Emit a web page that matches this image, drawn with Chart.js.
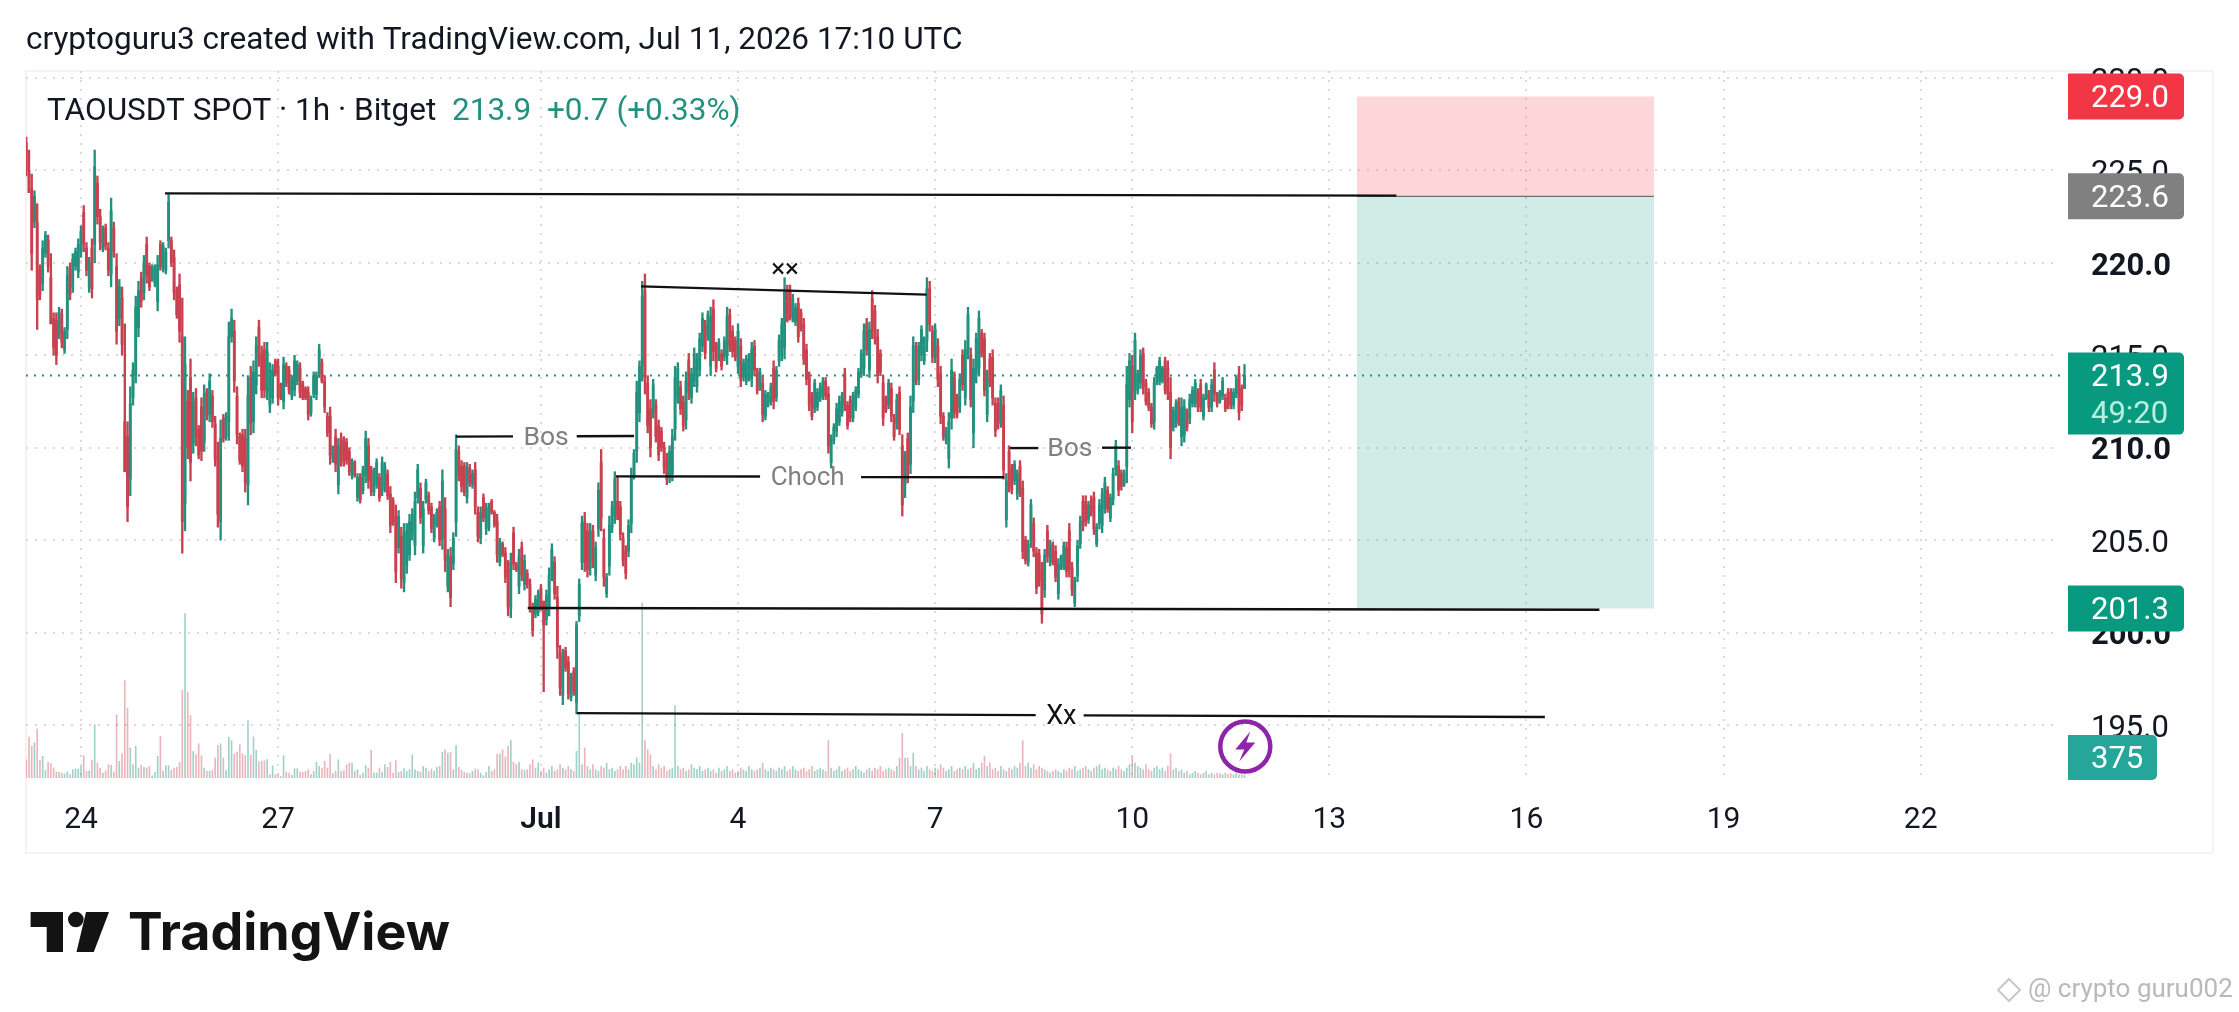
<!DOCTYPE html>
<html><head><meta charset="utf-8"><title>TAOUSDT</title>
<script src="https://cdn.jsdelivr.net/npm/chart.js@4"></script>
<style>html,body{margin:0;padding:0;background:#fff}canvas{display:block}</style></head>
<body><canvas id="c" width="2239" height="1012"></canvas>
<script>
const highs=[
226.8,226.1,224.8,223.9,223.2,219.9,221.2,221.7,221.5,220.5,217.3,217.3,217.6,217.5,216.5,219.8,220.0,220.5,220.8,221.3,222.0,223.1,221.1,220.3,221.3,226.1,224.7,222.9,222.0,222.1,221.1,223.5,222.2,220.5,219.1,218.7,216.7,211.4,213.3,214.6,218.2,219.0,219.5,220.4,221.4,220.0,219.9,219.9,220.4,221.2,221.1,220.8,223.7,221.4,220.7,218.7,219.4,218.1,216.0,213.1,214.8,213.0,213.2,211.2,212.7,213.4,213.2,214.0,213.1,211.7,210.3,211.5,211.8,211.9,216.8,217.5,216.9,213.3,210.8,211.0,211.0,213.9,214.4,214.7,216.0,216.9,215.5,215.7,215.7,214.6,
214.5,214.8,214.8,213.5,214.9,214.6,214.4,213.9,215.0,214.7,214.6,213.6,213.3,213.3,212.8,214.1,214.1,215.6,214.8,213.9,211.9,212.2,210.1,211.0,210.5,210.8,210.6,210.5,210.0,209.4,209.3,208.6,208.6,209.0,210.9,210.5,209.0,208.9,209.4,208.6,209.5,209.2,208.8,207.9,207.3,206.9,206.6,205.7,205.9,205.9,206.4,206.7,207.6,209.1,208.1,207.1,208.3,207.6,207.0,206.4,206.7,207.1,208.8,207.3,204.5,204.6,205.4,210.7,210.1,209.3,209.2,209.2,209.1,208.8,209.2,206.8,206.8,207.5,207.0,207.0,207.2,206.6,206.4,205.1,204.9,204.6,203.9,204.3,205.7,
203.8,204.5,204.9,204.2,203.4,202.9,201.6,202.0,202.3,202.6,201.7,202.3,203.5,204.8,204.1,202.5,199.3,199.1,199.2,198.7,197.8,198.1,200.6,202.9,206.3,206.5,205.9,205.9,205.8,204.9,208.1,209.9,205.6,203.2,206.3,207.1,208.7,208.4,207.1,205.4,204.7,206.1,208.9,209.9,213.6,214.7,219.0,219.4,213.9,212.6,213.7,212.6,211.5,211.1,210.3,209.7,210.1,211.0,214.4,214.6,213.6,212.8,214.1,215.1,214.3,215.4,215.1,216.2,217.3,216.9,217.4,217.6,218.0,215.7,215.9,215.3,216.0,217.6,217.5,216.6,216.0,216.7,215.9,214.8,215.0,215.1,215.7,215.8,214.3,214.3,
213.9,213.1,213.0,213.5,214.7,214.4,216.1,217.0,219.2,218.8,218.8,218.3,217.8,218.1,217.5,217.0,215.6,214.1,213.0,213.7,213.2,213.5,213.8,213.8,213.3,210.7,211.3,212.4,212.8,213.0,214.3,212.5,212.8,213.0,213.3,214.3,215.3,216.7,217.0,216.8,218.5,217.7,216.4,215.3,213.9,212.8,213.7,213.5,211.8,212.9,213.3,210.7,209.8,210.8,212.8,216.0,215.7,215.7,216.6,216.0,219.2,219.0,216.6,216.7,215.9,214.4,211.9,211.1,211.9,214.8,214.1,212.9,214.0,215.3,215.8,217.6,215.4,214.8,216.2,217.4,216.4,216.2,214.2,215.1,215.3,212.7,212.7,213.4,212.8,
208.6,210.1,209.1,209.3,208.8,209.3,208.2,205.2,205.0,207.2,206.2,204.6,204.5,203.8,204.5,205.8,205.0,204.9,204.7,204.0,204.2,204.9,204.9,205.9,203.8,203.0,205.0,206.3,207.4,207.4,207.1,207.4,207.6,205.9,207.2,207.8,208.4,207.9,207.5,208.9,210.4,209.3,208.8,208.8,214.4,215.1,215.0,216.2,214.2,215.3,215.4,213.7,213.2,212.4,213.8,214.4,214.9,214.4,214.9,214.7,213.8,212.2,212.6,212.7,212.7,212.6,212.1,212.9,213.3,213.7,213.2,213.7,212.9,213.5,213.1,213.7,214.6,213.0,213.1,213.8,212.9,213.2,213.2,213.2,213.9,214.4,213.4,214.5];
const lows=[
224.7,223.8,219.6,221.9,216.4,218.0,218.5,220.3,219.5,216.7,215.0,214.5,215.9,215.4,215.1,215.9,218.0,218.4,219.6,219.2,220.3,220.6,219.3,218.4,218.1,220.0,222.1,220.7,220.6,220.7,219.3,218.7,220.3,215.6,216.6,215.0,208.7,206.0,207.4,212.3,213.5,216.0,217.6,218.0,218.9,218.5,219.0,218.7,217.4,219.6,219.5,219.4,220.8,219.8,218.0,217.0,215.7,204.3,205.5,209.4,208.2,209.7,210.1,209.4,209.3,209.8,211.5,211.4,211.1,209.0,205.7,205.0,210.3,210.4,210.4,215.7,213.0,210.2,209.1,208.7,207.6,206.9,210.7,210.8,212.9,214.4,212.7,212.7,212.6,211.9,
212.4,213.9,212.3,212.6,212.1,213.3,212.9,212.6,212.8,213.4,212.7,212.6,212.6,211.5,211.7,212.7,212.6,213.8,213.5,211.9,210.6,209.1,209.2,208.7,207.5,209.0,209.0,209.1,208.5,208.3,208.4,207.1,207.0,207.5,208.1,207.8,207.4,207.4,207.8,207.1,207.4,207.6,207.2,205.4,205.8,202.7,204.3,202.4,202.2,203.2,203.9,205.0,204.2,207.0,205.9,204.3,207.0,206.4,205.4,204.9,205.7,204.7,204.5,203.3,202.2,201.4,203.4,205.2,208.2,207.6,207.4,207.0,207.9,207.8,206.4,204.9,204.8,206.0,205.3,205.5,206.4,205.7,203.8,203.6,204.1,202.7,200.9,200.8,203.4,
203.3,202.1,202.8,202.3,202.4,201.1,199.8,200.8,200.9,201.2,196.8,200.4,200.9,202.8,201.8,198.6,196.6,196.1,197.9,196.4,196.3,196.6,195.6,200.6,203.4,203.3,203.0,203.1,203.5,202.8,205.2,205.5,202.5,201.9,203.1,205.4,205.9,206.3,205.0,203.6,202.9,204.1,205.4,208.3,209.2,211.4,213.6,212.9,210.8,209.5,211.6,210.3,209.3,209.8,208.6,208.0,208.1,208.2,210.4,212.4,211.8,210.9,211.0,212.6,212.4,213.3,213.0,213.9,215.2,214.8,215.8,213.9,214.7,214.1,214.7,214.2,214.7,214.5,215.2,214.9,214.7,214.0,213.3,213.6,213.4,213.6,213.3,213.9,212.9,213.1,
211.4,211.5,212.2,212.3,212.1,212.5,214.4,214.7,214.8,216.8,216.9,216.8,216.6,215.7,216.3,214.5,213.4,212.0,211.5,211.9,212.0,212.5,212.6,212.6,209.7,208.9,210.2,210.6,211.2,211.7,212.0,211.0,211.4,211.4,212.0,212.7,213.8,213.9,215.0,213.8,215.9,215.6,213.5,213.9,211.2,211.9,212.1,211.4,210.4,211.0,210.7,206.3,207.3,208.1,208.6,211.9,213.4,213.4,214.7,214.5,215.2,216.3,214.6,214.6,213.3,211.3,210.4,210.2,208.9,211.0,211.6,211.6,211.9,213.1,212.3,214.8,212.2,210.0,213.5,213.9,214.9,212.8,211.4,213.3,212.3,210.6,211.0,211.1,208.3,
205.7,207.6,207.5,208.0,207.2,207.35,204.0,203.7,203.6,204.6,204.1,202.1,202.5,200.5,201.9,203.8,203.6,203.65,202.75,201.8,203.4,203.4,203.0,203.0,202.0,201.4,202.75,204.55,205.5,205.75,205.9,206.3,205.3,204.65,205.6,205.4,206.45,206.5,206.0,206.9,208.5,207.4,207.7,207.9,208.1,212.2,210.8,212.6,212.9,213.2,212.9,212.3,212.0,211.1,211.0,213.4,213.4,213.5,212.9,212.6,209.4,210.9,211.1,211.2,210.1,210.3,210.9,211.3,212.2,212.2,211.95,211.95,211.5,212.6,211.95,211.95,212.5,212.2,212.4,212.6,211.95,212.1,212.1,212.1,212.7,211.5,212.0,213.2];
const opens=[
226.5,225.0,224.0,222.2,222.2,219.6,218.9,220.5,221.2,219.2,217.0,216.9,216.2,217.2,215.3,216.4,219.7,218.7,219.8,219.5,220.6,222.7,220.8,218.7,220.8,221.0,224.3,222.5,220.8,221.9,220.8,219.4,221.9,219.8,217.0,218.1,211.4,210.6,208.3,212.7,213.9,216.5,219.2,218.4,221.0,219.8,219.1,218.9,217.9,221.0,219.7,219.6,221.2,221.2,220.3,218.5,218.8,216.0,207.0,212.5,213.8,210.2,212.7,211.0,212.2,210.3,213.0,211.8,212.8,211.3,209.6,206.0,211.6,210.6,211.4,216.0,216.3,212.8,210.6,210.7,210.5,208.0,213.8,211.4,213.4,216.5,215.1,215.3,213.0,212.3,
212.7,214.7,214.4,213.4,212.5,214.4,214.2,212.8,213.1,213.6,214.3,213.5,213.2,213.0,211.9,212.9,212.9,214.0,214.6,213.6,211.7,211.7,209.4,210.6,208.0,210.5,210.4,210.3,209.8,208.5,209.2,207.3,208.4,207.7,208.5,210.1,208.8,207.6,208.0,208.4,207.7,207.8,208.6,207.5,207.1,206.3,204.6,205.2,202.7,203.6,204.2,205.3,204.7,207.3,207.8,204.7,207.2,207.4,206.8,205.1,205.9,206.8,205.1,206.7,202.5,204.1,203.7,206.0,209.8,209.0,209.0,207.3,208.9,208.0,208.8,206.5,205.1,207.3,205.6,205.7,207.1,206.5,206.0,203.8,204.8,204.3,203.4,201.3,205.4,
203.7,202.5,204.6,202.6,203.2,202.6,201.3,201.0,201.1,202.4,201.7,200.7,201.3,203.1,203.8,201.9,198.9,196.6,199.0,198.4,196.5,197.9,196.2,200.9,203.8,206.0,205.5,203.5,205.5,203.1,205.6,209.2,205.1,202.1,203.6,205.7,206.3,207.1,206.8,205.1,204.4,204.4,205.9,208.5,209.8,211.9,214.4,218.5,213.5,212.1,211.9,212.3,211.2,210.9,210.0,209.4,208.4,208.6,211.0,212.7,213.3,212.5,211.5,214.7,212.7,213.6,213.3,214.2,215.5,216.6,216.0,214.4,217.5,215.5,214.9,215.1,214.9,215.0,217.2,216.3,215.8,214.4,215.5,213.8,213.6,213.8,213.7,215.5,214.1,213.3,
213.5,211.7,212.4,212.5,214.3,212.7,214.7,215.0,215.4,218.5,218.5,217.0,216.8,217.8,217.3,216.7,215.3,213.8,212.8,212.1,212.2,212.7,212.8,213.6,212.9,209.2,210.4,210.9,211.4,211.9,214.0,212.3,212.6,211.6,212.2,212.9,214.0,214.3,216.7,214.2,218.1,217.4,216.0,215.1,213.5,212.7,212.3,213.2,211.6,211.3,213.0,210.1,208.0,210.5,209.1,212.5,213.8,213.7,215.0,214.7,215.8,218.6,216.3,214.9,215.5,214.0,211.7,210.4,209.4,211.6,213.8,212.7,212.2,215.0,212.7,215.1,215.0,210.8,214.0,214.3,216.2,215.9,211.8,214.8,214.9,212.4,212.4,211.4,212.3,
206.1,209.8,208.9,208.2,207.5,209.0,207.8,205.0,203.8,205.0,205.9,204.3,204.2,203.4,202.3,205.5,203.8,204.7,204.4,202.1,203.5,203.6,204.6,205.5,203.5,201.6,203.1,204.8,207.1,207.1,206.1,207.2,207.3,204.8,205.9,205.8,206.7,207.7,206.2,207.2,208.8,209.0,208.6,208.0,209.0,212.6,214.4,213.1,213.1,213.5,215.1,213.5,213.0,212.2,211.4,213.5,213.6,213.6,214.7,214.3,213.0,211.1,211.3,212.5,210.6,210.7,211.9,211.6,212.4,212.4,213.0,213.4,211.7,212.7,212.9,212.2,214.2,212.9,212.5,212.8,212.7,213.0,213.0,212.3,212.9,214.0,213.2,213.2];
const closes=[
225.0,223.8,220.5,223.6,218.0,218.3,220.8,221.5,219.8,216.7,215.4,215.0,217.3,215.7,216.3,219.3,218.3,220.2,220.6,221.0,221.7,221.0,219.6,220.0,218.6,225.2,222.5,221.1,221.8,220.9,219.6,222.8,220.6,216.3,218.7,215.6,208.7,206.8,212.4,214.2,217.6,218.5,217.9,220.0,219.3,218.7,219.8,219.7,219.9,219.8,220.9,220.6,223.3,220.0,218.4,217.2,216.3,206.0,214.5,210.0,209.2,212.5,210.6,209.6,209.8,212.9,211.7,213.6,211.4,209.4,206.4,210.5,210.5,211.7,216.0,217.0,213.6,210.7,209.3,209.0,208.1,212.8,211.3,214.1,215.5,214.8,213.1,213.1,215.2,214.2,
214.2,214.0,212.7,212.7,214.5,213.5,213.1,213.7,214.7,214.5,213.0,212.7,212.7,211.8,212.6,213.9,213.9,215.3,213.6,212.2,210.8,209.6,210.0,209.1,210.1,209.3,209.2,209.3,208.7,209.2,208.5,208.4,207.2,208.8,210.5,208.2,207.6,208.7,209.2,207.3,209.2,209.0,207.4,205.8,206.0,203.3,206.3,202.9,205.4,205.5,206.0,206.4,207.1,208.8,206.2,206.7,208.1,206.6,205.6,206.2,206.5,205.0,208.2,203.9,204.2,201.9,205.1,209.9,208.5,207.9,207.6,208.9,208.1,208.6,206.8,205.2,206.5,206.2,206.7,206.8,206.5,205.8,204.2,204.9,204.2,203.0,201.4,203.8,203.7,
203.4,204.1,203.1,203.9,202.6,201.4,200.1,201.8,202.1,201.4,200.4,202.0,203.1,204.5,202.1,199.2,197.0,198.7,198.1,196.7,197.6,196.8,200.4,202.6,205.9,203.8,203.4,205.5,203.8,204.6,207.7,206.2,203.0,203.0,205.8,206.8,208.3,206.1,205.3,203.9,203.2,205.8,208.4,209.7,213.0,214.4,218.2,213.8,211.2,210.0,213.4,210.6,209.6,210.0,208.9,208.3,209.8,210.6,213.8,214.3,212.1,211.2,213.6,213.0,214.0,215.1,214.8,215.9,217.0,215.1,217.2,217.1,215.2,214.3,215.7,214.4,215.8,217.1,215.5,215.2,214.9,216.3,213.7,214.6,214.8,214.9,215.3,214.2,213.1,214.1,
211.8,212.9,212.8,213.3,212.5,214.2,215.8,216.7,218.4,216.9,217.1,218.1,217.6,216.0,216.5,214.8,213.7,212.3,211.7,213.5,213.0,213.3,213.6,212.8,210.1,210.5,211.1,212.1,212.5,212.8,212.3,211.2,211.6,212.8,213.1,214.1,215.1,216.3,215.3,216.4,216.3,215.9,213.9,214.1,211.6,212.0,213.5,211.7,210.6,212.6,211.0,206.9,209.6,208.5,212.2,215.5,213.6,215.5,216.4,215.8,218.6,216.7,214.9,216.4,213.7,211.7,210.6,210.9,211.4,214.2,211.9,211.8,213.7,213.4,215.3,217.2,212.6,214.3,215.9,217.0,215.1,213.1,213.8,213.6,212.7,210.9,211.3,213.1,208.8,
208.2,207.9,207.7,209.1,208.6,207.6,204.4,203.9,204.8,206.9,204.4,202.4,202.8,201.0,204.2,204.1,204.8,203.8,203.0,203.7,204.1,204.7,203.3,203.4,202.3,202.8,204.7,206.0,205.8,206.0,206.9,206.5,205.6,205.7,206.9,207.5,208.1,206.7,207.3,208.6,210.1,207.7,207.9,208.7,213.4,214.7,211.4,215.8,214.0,215.0,213.3,212.5,212.2,211.3,213.5,214.3,214.7,214.3,213.1,212.9,210.0,212.0,212.4,211.4,212.2,212.2,211.1,212.6,213.1,213.5,212.2,212.2,212.7,213.4,212.2,213.4,212.9,212.4,213.0,213.6,212.1,212.3,212.3,213.0,213.7,211.9,212.3,213.9];
const volumes=[
2200,4920,3800,4200,5880,2120,2600,920,1920,1720,1200,720,680,600,480,720,400,1000,1080,1080,
1400,2680,800,880,2080,6400,1800,1200,600,880,1600,1520,680,7600,2000,2920,11680,8400,3600,1600,
3800,1200,1520,1280,1200,1400,280,680,2600,5000,800,1480,1480,920,1200,1280,1880,10520,19720,10320,
7520,3200,2800,4120,2680,1200,800,800,920,2400,3920,4120,2400,880,4880,4480,2880,3120,4000,2920,
2680,6880,2720,4920,3320,1920,2000,2080,2200,400,1480,400,400,200,2680,720,600,320,1120,1120,
720,680,800,1000,400,800,1920,1400,1200,2000,1200,2880,520,800,2200,800,880,1600,1800,1800,
800,1000,320,600,1480,1200,3320,600,600,1200,680,1600,1280,1880,600,2080,680,800,1120,800,
1000,2800,1000,800,720,1400,1200,800,1080,800,1280,1400,3120,3400,3000,3080,1000,3920,1280,920,
680,600,520,800,1080,1000,600,280,680,1400,800,1000,2880,2880,3400,2520,3800,4480,1880,1600,
1880,1000,880,1000,1600,2200,1200,1800,
800,1200,600,1000,1400,800,1000,1600,1200,1000,1400,1000,800,3200,7680,1600,3600,1400,1000,1600,1000,800,
1400,1200,1800,1000,1200,800,1000,1400,1000,1400,1000,1800,1600,2400,1800,21000,4480,3400,2800,
1400,1000,1600,1200,1400,800,1000,1200,8680,
1400,1000,1200,800,1000,1600,1200,1000,1400,800,1000,1200,800,1000,600,1200,800,1000,1400,800,
1000,600,800,1200,1000,800,1400,1000,800,1000,1200,1800,1000,800,1200,1000,800,1200,1000,1400,
800,1000,1400,1000,800,1000,1200,800,1000,1400,800,1000,1200,1000,800,4480,
1200,800,1000,1400,800,1000,1200,800,1000,1400,1000,800,600,1000,1200,800,1200,1000,1400,800,1000,1200,1000,800,1400,2400,5360,2400,2400,1400,3000,
1400,1000,1200,800,1400,1000,800,1200,1000,1600,1200,800,1000,1400,800,1000,1200,1000,1400,1000,1200,1800,1000,1200,1800,2640,
1400,1800,1000,1200,800,1400,1000,800,1200,1000,1400,1200,1800,4480,
1400,1800,1200,1600,1000,1400,1200,1000,800,600,800,1000,800,600,1000,800,1200,1000,1400,800,1000,1200,1400,1000,800,1200,1400,1600,1000,1200,1000,800,1200,1000,1400,1000,800,1200,1600,2560,
1800,1400,1200,1000,1600,1000,800,1200,1400,1000,1200,800,1400,2920,
1000,1200,800,1000,600,800,400,600,800,600,400,600,800,400,600,400,600,500,400,600,400,500,400,600,400,500,375];
const xTickValues=[0,3,7,10,13,16,19,22,25,28];
const xTickLabels=["24","27","Jul","4","7","10","13","16","19","22"];
const priceTicks=[195,200,205,210,215,220,225,230];
const boldPriceTicks=[200,210,220];
const lastHour=425;
const currentPrice=213.9;
const targetPrice=229.0, entryPrice=223.6, stopPrice=201.3;
const positionStart=19.42, positionEnd=23.94;
const drawnSegments=[
 [1.279,223.76,20.02,223.64],[6.80,201.33,23.11,201.23],
 [7.545,195.64,14.53,195.53],[15.26,195.52,22.28,195.43],
 [8.524,218.73,12.87,218.28],
 [5.708,210.6,6.575,210.61],[7.545,210.62,8.417,210.63],
 [8.143,208.45,10.335,208.44],[11.872,208.41,14.05,208.4],
 [14.14,209.98,14.57,209.98],[15.54,210.0,15.98,210.0]];
const drawnNotes=[
 ["Bos",7.078,210.62,"#808080","26.5px Roboto"],
 ["Choch",11.06,208.43,"#808080","26px Roboto"],
 ["Bos",15.05,210.0,"#808080","26.5px Roboto"],
 ["××",10.715,219.69,"#111","26px Roboto"],
 ["Xx",14.92,195.5,"#111","27px Roboto"]];
const priceTags=[[229.0,"#f23645"],[223.6,"#808080"],[201.3,"#089981"]];

const UP="#22917e",DOWN="#c9404f",FONT="Roboto";
const xs=highs.map((_,i)=>(lastHour-(highs.length-1)+i)/24);
const isUp=i=>closes[i]>=opens[i];
const candleColors=xs.map((_,i)=>isUp(i)?UP:DOWN);
const volColors=xs.map((_,i)=>isUp(i)?"rgba(34,145,126,.42)":"rgba(201,64,79,.38)");
const wicks=xs.map((x,i)=>({x,y:[lows[i],highs[i]]}));
const bodies=xs.map((x,i)=>({x,y:[opens[i],closes[i]]}));
const vols=xs.map((x,i)=>({x,y:volumes[i]||0}));
const XMIN=-0.837,XMAX=30.12;
const segDatasets=drawnSegments.map(s=>({type:"line",data:[{x:s[0],y:s[1]},{x:s[2],y:s[3]}],borderColor:"#111",borderWidth:2.4,pointRadius:0,order:1,yAxisID:"y",xAxisID:"x"}));

const overlay={id:"overlay",
 beforeDraw(c){const g=c.ctx;g.save();g.fillStyle="#fff";g.fillRect(0,0,2239,1012);g.strokeStyle="#f0f0f0";g.lineWidth=1.5;g.strokeRect(26,71,2187,782);g.restore();},
 beforeDatasetsDraw(c){const g=c.ctx,x=c.scales.x,y=c.scales.y;g.save();
  const l=x.getPixelForValue(positionStart),r=x.getPixelForValue(positionEnd);
  const t=y.getPixelForValue(targetPrice),e=y.getPixelForValue(entryPrice),b=y.getPixelForValue(stopPrice);
  g.fillStyle="rgba(247,82,95,.24)";g.fillRect(l,t,r-l,e-t);
  g.fillStyle="rgba(8,153,129,.19)";g.fillRect(l,e,r-l,b-e);
  g.strokeStyle="#555";g.lineWidth=1;g.beginPath();g.moveTo(l,e);g.lineTo(r,e);g.stroke();
  g.restore();},
 afterDatasetsDraw(c){const g=c.ctx,x=c.scales.x,y=c.scales.y;g.save();g.textAlign="center";g.textBaseline="middle";
  drawnNotes.forEach(n=>{g.font=n[4];g.fillStyle=n[3];g.fillText(n[0],x.getPixelForValue(n[1]),y.getPixelForValue(n[2])+2);});
  // lightning badge
  const cx=x.getPixelForValue(17.72),cy=746.5;
  g.strokeStyle="#8e24aa";g.lineWidth=4.5;g.beginPath();g.arc(cx,cy,25,0,Math.PI*2);g.stroke();
  g.fillStyle="#8e24aa";g.beginPath();
  [[5,-15],[-10,3],[-1,3],[-6,15],[10,-4],[1,-4]].forEach((p,i)=>i?g.lineTo(cx+p[0],cy+p[1]):g.moveTo(cx+p[0],cy+p[1]));g.closePath();g.fill();
  g.restore();},
 afterDraw(c){const g=c.ctx,y=c.scales.y;g.save();g.textBaseline="middle";
  const tag=(top,h,w,col)=>{g.fillStyle=col;g.beginPath();g.roundRect(2068,top,w,h,[0,5,5,0]);g.fill();};
  g.font="31px "+FONT;
  priceTags.forEach(t=>{const py=y.getPixelForValue(t[0]);tag(py-23,46,116,t[1]);g.fillStyle="#fff";g.fillText(t[0].toFixed(1),2091,py+3);});
  const py=y.getPixelForValue(currentPrice);
  tag(py-23,82,116,"#089981");g.fillStyle="#fff";g.fillText(currentPrice.toFixed(1),2091,py+3);
  g.fillStyle="#b8efdf";g.fillText("49:20",2091,py+40);
  tag(735,45,89,"#26a69a");g.fillStyle="#fff";g.fillText(String(volumes[volumes.length-1]),2091,760);
  // header
  g.fillStyle="#131722";g.font="31.5px "+FONT;g.fillText("cryptoguru3 created with TradingView.com, Jul 11, 2026 17:10 UTC",26,41);
  g.fillText("TAOUSDT SPOT · 1h · Bitget",47,112);
  g.fillStyle=UP;g.fillText("213.9",452,112);g.fillText("+0.7 (+0.33%)",547,112);
  // logo
  g.fillStyle="#131313";
  g.beginPath();g.moveTo(30.6,912);g.lineTo(63,912);g.lineTo(63,952);g.lineTo(46.7,952);g.lineTo(46.7,927);g.lineTo(30.6,927);g.closePath();g.fill();
  g.beginPath();g.arc(75.8,919.5,7.8,0,Math.PI*2);g.fill();
  g.beginPath();g.moveTo(86,912);g.lineTo(109,912);g.lineTo(93.8,952);g.lineTo(76.5,952);g.closePath();g.fill();
  g.font="700 52px Inter";g.fillText("TradingView",128,934);
  // watermark
  g.fillStyle="#b9b9b9";g.font="26px "+FONT;g.fillText("@ crypto guru002",2028,990);
  g.strokeStyle="#c8c8c8";g.lineWidth=2;g.beginPath();g.moveTo(2009,979);g.lineTo(2020,990);g.lineTo(2009,1001);g.lineTo(1998,990);g.closePath();g.stroke();
  g.restore();}
};

new Chart(document.getElementById("c"),{
 type:"bar",
 data:{datasets:[
  {type:"line",data:[{x:XMIN,y:currentPrice},{x:XMAX,y:currentPrice}],borderColor:UP,borderWidth:2,borderDash:[2,6],pointRadius:0,order:7},
  {data:vols,yAxisID:"yVol",backgroundColor:volColors,barThickness:1,grouped:false,order:6},
  {data:wicks,backgroundColor:candleColors,barThickness:1.7,grouped:false,order:5},
  {data:bodies,backgroundColor:candleColors,barThickness:2.2,grouped:false,order:4},
  ...segDatasets
 ]},
 options:{responsive:false,animation:false,devicePixelRatio:1,
  layout:{padding:{left:26,top:71,right:0,bottom:0}},
  plugins:{legend:{display:false},tooltip:{enabled:false},title:{display:false}},
  events:[],
  scales:{
   x:{type:"linear",min:XMIN,max:XMAX,offset:false,
    afterBuildTicks(s){s.ticks=xTickValues.map(v=>({value:v}));},
    afterFit(s){s.height=234;},
    grid:{offset:false,color:"#dadada",lineWidth:2,drawTicks:false},
    border:{display:false,dash:[2,7]},
    ticks:{autoSkip:false,maxRotation:0,padding:24,color:"#131722",
     font:ctx=>({family:FONT,size:30,weight:ctx.tick&&ctx.tick.value===7?"600":"400"}),
     callback:v=>xTickLabels[xTickValues.indexOf(v)]}},
   y:{type:"linear",position:"right",min:192.13,max:230.38,
    afterBuildTicks(s){s.ticks=priceTicks.map(v=>({value:v}));},
    afterFit(s){s.width=179;},
    grid:{color:"#dadada",lineWidth:2,drawTicks:false},
    border:{display:false,dash:[2,7]},
    ticks:{autoSkip:false,padding:31,crossAlign:"near",labelOffset:4,color:"#131722",
     font:ctx=>({family:FONT,size:31,weight:ctx.tick&&boldPriceTicks.includes(ctx.tick.value)?"700":"400"}),
     callback:v=>v.toFixed(1)}},
   yVol:{type:"linear",display:false,min:0,max:84840,position:"left",grid:{display:false}}
  }},
 plugins:[overlay]
});
</script></body></html>
